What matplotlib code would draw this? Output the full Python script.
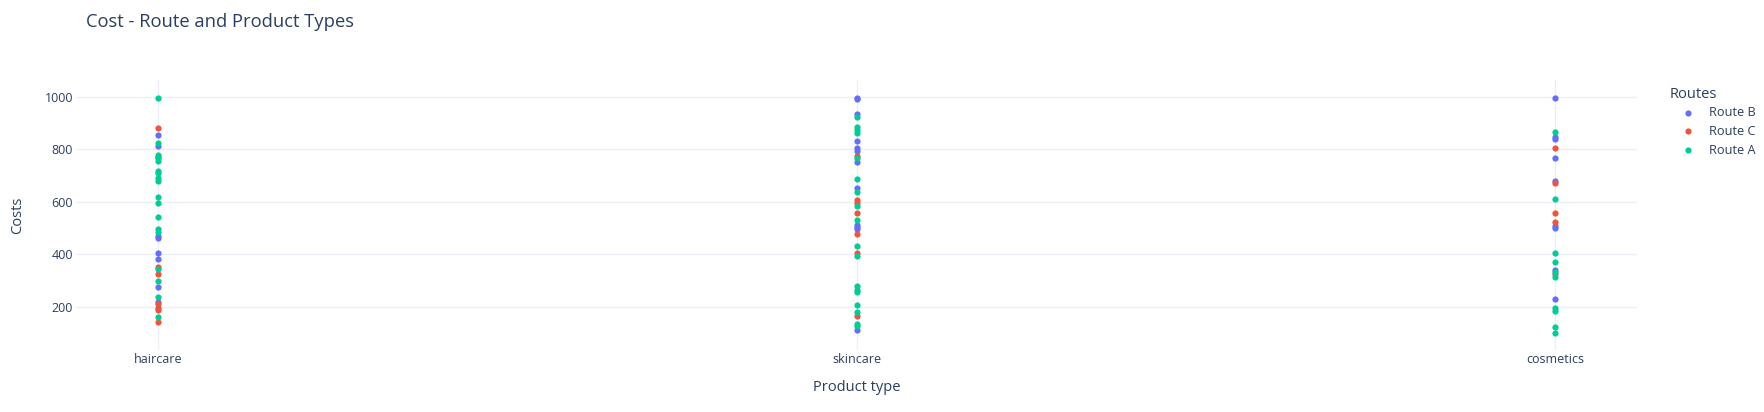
import matplotlib.pyplot as plt

plt.rcParams['font.family'] = ['Open Sans', 'DejaVu Sans']

product_types = ['haircare', 'skincare', 'cosmetics']
routes = ['Route B', 'Route C', 'Route A']
route_colors = {'Route B': '#636efa', 'Route C': '#EF553B', 'Route A': '#00cc96'}

# costs, per route and product type
route_b_haircare = [854, 812, 772, 468, 460, 403, 380, 274, 219, 195]
route_b_skincare = [995, 990, 933, 831, 806, 793, 750, 653, 511, 502, 495, 110]
route_b_cosmetics = [996, 848, 841, 765, 679, 508, 499, 340, 228]

route_c_haircare = [882, 352, 325, 210, 187, 140]
route_c_skincare = [774, 606, 594, 558, 477, 406, 165]
route_c_cosmetics = [803, 673, 556, 524, 323]

route_a_haircare = [997, 825, 778, 765, 755, 717, 708, 690, 680, 619, 594, 540,
                    498, 485, 345, 299, 236, 162]
route_a_skincare = [924, 886, 874, 862, 765, 686, 636, 585, 530, 431, 393, 278,
                    265, 255, 206, 181, 135, 125]
route_a_cosmetics = [867, 610, 406, 372, 333, 314, 194, 185, 124, 101]

costs = {
    'Route B': [route_b_haircare, route_b_skincare, route_b_cosmetics],
    'Route C': [route_c_haircare, route_c_skincare, route_c_cosmetics],
    'Route A': [route_a_haircare, route_a_skincare, route_a_cosmetics],
}

text_color = '#2a3f5f'
grid_color = '#ebf0f8'
W, H = 1765, 412

fig = plt.figure(figsize=(W / 100, H / 100), dpi=100)
ax = fig.add_axes([76 / W, 1 - 350 / H, (1637 - 76) / W, (350 - 80) / H])

for route in routes:
    xs, ys = [], []
    for i, values in enumerate(costs[route]):
        xs += [product_types[i]] * len(values)
        ys += values
    ax.scatter(xs, ys, s=20, color=route_colors[route], linewidths=0,
               label=route, zorder=3)

ax.set_xlim(-0.117, 2.117)
ax.set_ylim(35, 1064)
ax.set_yticks([200, 400, 600, 800, 1000])
ax.grid(True, color=grid_color, linewidth=1, zorder=0)
for side in ax.spines.values():
    side.set_visible(False)
ax.tick_params(length=0, colors=text_color, labelsize=9)
ax.tick_params(axis='y', pad=2)
ax.tick_params(axis='x', pad=2)

ax.set_xlabel('Product type', color=text_color, fontsize=10.5, labelpad=10)
ax.set_ylabel('Costs', color=text_color, fontsize=10.5, labelpad=14)
fig.text(86 / W, 1 - 22 / H, 'Cost - Route and Product Types',
         color=text_color, fontsize=13.2, va='center', ha='left')

# legend: title as plain text, entries from the scatter handles
fig.text(1670 / W, 1 - 94 / H, 'Routes', color=text_color, fontsize=10.5,
         va='center', ha='left')
legend = ax.legend(loc='upper left', bbox_to_anchor=(1682 / W, 1 - 106 / H),
                   bbox_transform=fig.transFigure, frameon=False, fontsize=9.2,
                   borderpad=0, borderaxespad=0, handlelength=1.0,
                   handletextpad=1.1, labelspacing=0.45)
plt.setp(legend.get_texts(), color=text_color)

fig.savefig('out.png', dpi=100)
